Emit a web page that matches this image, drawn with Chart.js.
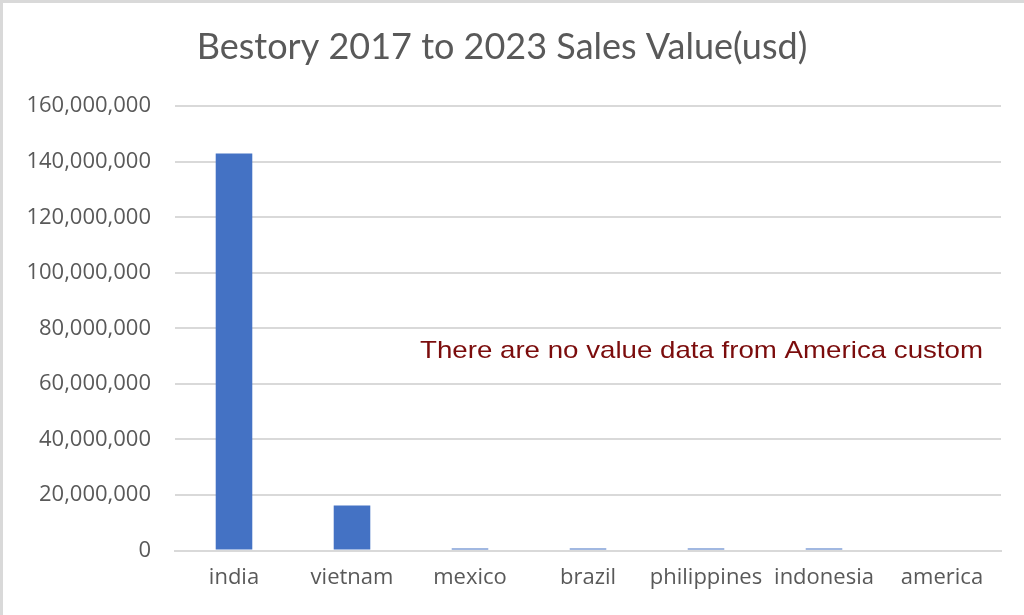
<!DOCTYPE html>
<html>
<head>
<meta charset="utf-8">
<script src="https://cdn.jsdelivr.net/npm/chart.js@4.4.0/dist/chart.umd.min.js"></script>
<style>
  html, body { margin: 0; padding: 0; background: #fff; }
  #wrap {
    position: relative; width: 1024px; height: 615px; box-sizing: border-box;
    border-top: 3px solid #d9d9d9; border-left: 3px solid #d9d9d9;
  }
</style>
</head>
<body>
<div id="wrap"><canvas id="graph"></canvas></div>
<script>
"use strict";
// values
var countries = ["india", "vietnam", "mexico", "brazil", "philippines", "indonesia", "america"];
var salesUsd = [143000000, 16200000, 800000, 800000, 800000, 800000, 0];
var yTicks = [0, 20000000, 40000000, 60000000, 80000000, 100000000, 120000000, 140000000, 160000000];
var titleText = "Bestory 2017 to 2023 Sales Value(usd)";
var noteText = "There are no value data from America custom";

var grey = "#595959";

// the red note in the middle of the chart
var notePlugin = {
  id: "note",
  afterDraw: function (chart) {
    var ctx = chart.ctx;
    var area = chart.chartArea;
    ctx.save();
    ctx.font = "24px 'Liberation Sans', Arial, sans-serif";
    ctx.fillStyle = "#7b0c0c";
    ctx.textBaseline = "middle";
    //stretch it a bit, the original is wider
    var w = ctx.measureText(noteText).width;
    ctx.translate(area.left + 245, area.top + 245);
    ctx.scale(563 / w, 1);
    ctx.fillText(noteText, 0, 0);
    ctx.restore();
  }
};

new Chart(document.getElementById("graph"), {
  type: "bar",
  data: {
    labels: countries,
    datasets: [
      {
        data: salesUsd,
        backgroundColor: "#4472c4",
        borderWidth: 0,
        barPercentage: 0.31,
        categoryPercentage: 1
      }
    ]
  },
  options: {
    responsive: true,
    maintainAspectRatio: false,
    animation: false,
    layout: { padding: { top: 0, right: 23, bottom: 10, left: 0 } },
    plugins: {
      legend: { display: false },
      tooltip: { enabled: false },
      title: {
        display: true,
        text: titleText,
        color: grey,
        font: { family: "Lato, 'Open Sans', sans-serif", size: 36, weight: "normal" },
        padding: { top: 23, bottom: 37 }
      }
    },
    scales: {
      x: {
        grid: { display: false, drawTicks: false },
        border: { display: true, color: "#d9d9d9", width: 2 },
        ticks: {
          color: grey,
          font: { family: "'Open Sans', sans-serif", size: 22 },
          padding: 14,
          maxRotation: 0,
          autoSkip: false
        }
      },
      y: {
        min: 0,
        max: 160000000,
        afterFit: function (axis) { axis.width = 172; },
        afterBuildTicks: function (axis) {
          axis.ticks = yTicks.map(function (v) { return { value: v }; });
        },
        grid: { color: "#d9d9d9", lineWidth: 2, drawTicks: false },
        border: { display: false },
        ticks: {
          color: grey,
          font: { family: "'Open Sans', sans-serif", size: 22 },
          padding: 24,
          callback: function (v) { return Number(v).toLocaleString("en-US"); }
        }
      }
    }
  },
  plugins: [notePlugin]
});
</script>
</body>
</html>
